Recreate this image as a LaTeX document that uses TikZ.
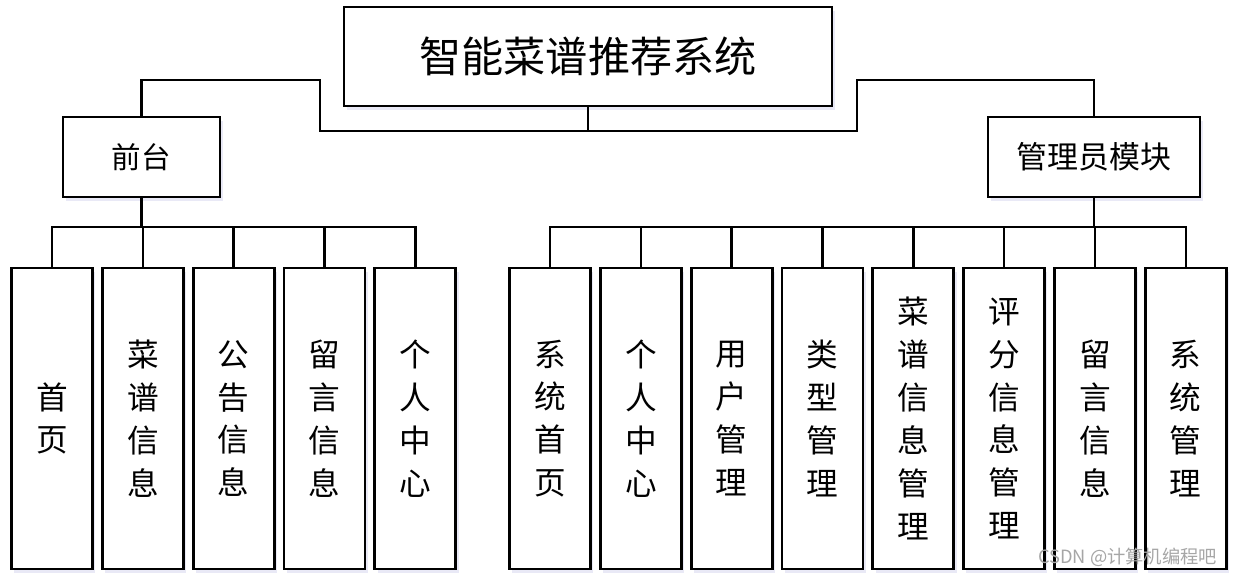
\documentclass[tikz,border=0pt]{standalone}
\usepackage{fontspec}
\usepackage{tikz}
\usetikzlibrary{positioning, shadows}
\newfontfamily\cjk{Noto Sans CJK SC}

\tikzset{
  box/.style={draw, line width=2pt, fill=white, inner sep=0pt, outer sep=0pt,
    drop shadow={shadow xshift=2pt, shadow yshift=-3pt, fill=blue!40!gray, opacity=0.12}},
  leaf/.style={box, minimum width=2.025cm, minimum height=7.525cm, align=center,
    font=\cjk\fontsize{22.5}{30.5}\selectfont},
  link/.style={line width=1.8pt}
}

\begin{document}
\begin{tikzpicture}[x=0.025cm, y=-0.025cm, node distance=0.245cm]
            \useasboundingbox (0,0) rectangle (1237,579);

            \node [box, minimum width=12.2cm, minimum height=2.475cm,
                   font=\cjk\fontsize{30}{36}\selectfont] (sys) at (588,56.5) {智能菜谱推荐系统};
            \node [box, minimum width=3.925cm, minimum height=2cm,
                   font=\cjk\fontsize{21}{26}\selectfont] (front) at (141.5,157) {前台};
            \node [box, minimum width=5.3cm, minimum height=2cm,
                   font=\cjk\fontsize{22}{27}\selectfont] (admin) at (1094,157) {管理员模块};

            % front pages
            \node [leaf] (f1) at (52,418.5) {首\\页};
            \node [leaf, right=of f1] (f2) {菜\\谱\\信\\息};
            \node [leaf, right=of f2] (f3) {公\\告\\信\\息};
            \node [leaf, right=of f3] (f4) {留\\言\\信\\息};
            \node [leaf, right=of f4] (f5) {个\\人\\中\\心};

            % admin pages
            \node [leaf] (a1) at (550,418.5) {系\\统\\首\\页};
            \node [leaf, right=of a1] (a2) {个\\人\\中\\心};
            \node [leaf, right=of a2] (a3) {用\\户\\管\\理};
            \node [leaf, right=of a3] (a4) {类\\型\\管\\理};
            \node [leaf, right=of a4] (a5) {菜\\谱\\信\\息\\管\\理};
            \node [leaf, right=of a5] (a6) {评\\分\\信\\息\\管\\理};
            \node [leaf, right=of a6] (a7) {留\\言\\信\\息};
            \node [leaf, right=of a7] (a8) {系\\统\\管\\理};

            \coordinate (kl) at (320,80);
            \coordinate (jl) at (320,131);
            \coordinate (jr) at (857,131);
            \coordinate (kr) at (857,80);

            \draw [link] (sys.south) -- (sys.south |- jl);
            \draw [link] (front.north) |- (kl) -- (jl) -- (jr) -- (kr) -| (admin.north);

            \foreach \i in {1,...,5}
                \draw [link] (front.south) -- ++(0,30) -| (f\i.north);
            \foreach \i in {1,...,8}
                \draw [link] (admin.south) -- ++(0,30) -| (a\i.north);

            \node [text=gray!70, font=\cjk\fontsize{13}{15}\selectfont, anchor=east] (mark) at (1222,557) {CSDN @计算机编程吧};
        \end{tikzpicture}
\end{document}
